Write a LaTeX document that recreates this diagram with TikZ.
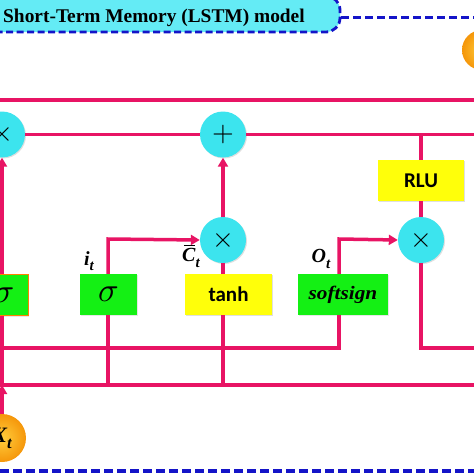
\documentclass[tikz,border=0pt]{standalone}
\usepackage{amsmath}
\usepackage{fontspec}
\setmainfont{Liberation Serif}
\newfontfamily\carl{Carlito}
\newcommand\bivar[3]{{\bfseries\itshape\fontsize{#1}{#1}\selectfont #2\raisebox{-0.28em}{\fontsize{0.75\dimexpr #1pt\relax}{1}\selectfont #3}}}
\usetikzlibrary{arrows.meta,shadows}
\definecolor{lpink}{RGB}{232,20,100}
\definecolor{lcyan}{RGB}{60,228,238}
\definecolor{lgreen}{RGB}{20,240,20}
\definecolor{lyellow}{RGB}{255,255,10}
\definecolor{lblue}{RGB}{20,20,200}
\definecolor{orin}{RGB}{255,205,60}
\definecolor{orout}{RGB}{245,150,10}
\definecolor{bannerc}{RGB}{100,235,245}
\tikzset{
  wire/.style={draw=lpink,line width=3.5pt},
  arr/.style={wire,-{Triangle[length=9pt,width=10pt]}},
  opc/.style={circle,fill=lcyan,minimum size=46pt,inner sep=0pt,drop shadow={opacity=0.25,shadow xshift=1pt,shadow yshift=-1pt}},
  gbox/.style={rectangle,fill=lgreen,minimum height=41pt,inner sep=0pt,drop shadow={opacity=0.2,shadow xshift=1pt,shadow yshift=-1pt}},
  ybox/.style={rectangle,fill=lyellow,minimum height=41pt,inner sep=0pt,drop shadow={opacity=0.25,shadow xshift=1pt,shadow yshift=-1pt},font=\carl\bfseries\fontsize{21}{21}\selectfont},
  inc/.style={circle,inner color=orin,outer color=orout,inner sep=0pt},
  lbl/.style={inner sep=0pt},
  bluedash/.style={draw=lblue,line width=3.5pt,dash pattern=on 9pt off 4pt}
}
\begin{document}
\begin{tikzpicture}[x=1pt,y=-1pt]
\useasboundingbox (0,0) rectangle (474,474);
\clip (0,0) rectangle (474,474);
% banner
\node[draw=lblue,line width=2.8pt,dash pattern=on 7pt off 3.5pt,fill=bannerc,rounded corners=14pt,minimum width=372pt,minimum height=36pt,inner sep=0pt] (banner) at (154,14) {};
\node[font=\bfseries\fontsize{19.4}{19.4}\selectfont,inner sep=0pt,anchor=west] (title) at (3,18) {Short-Term Memory (LSTM) model};
\coordinate (bannerR) at (474,17);
\draw[draw=lblue,line width=3pt,dash pattern=on 8pt off 4pt] (banner.east |- bannerR) -- (bannerR);
% orange circles
\node[inc,minimum size=40pt] (ht) at (482,50) {};
\node[inc,minimum size=48pt] (xt) at (2,438) {\bivar{22}{X}{t}};
% operators
\node[opc] (mulL) at (2,134.5) {\scalebox{2.8}{$\times$}};
\node[opc] (plus) at (223,134.5) {\scalebox{2.8}{$+$}};
\node[opc] (mulM) at (223,240) {\scalebox{2.8}{$\times$}};
\node[opc] (mulR) at (421,240) {\scalebox{2.8}{$\times$}};
% boxes
\node[gbox,draw=orange,line width=1pt,minimum width=48pt] (sigF) at (4,295) {\scalebox{3.4}{$\sigma$}};
\node[gbox,minimum width=57pt] (sigI) at (108.5,294.5) {\scalebox{3.4}{$\sigma$}};
\node[ybox,minimum width=87pt] (tanh) at (228.5,294.5) {tanh};
\node[gbox,minimum width=90pt,font=\bfseries\itshape\fontsize{19}{19}\selectfont] (soft) at (343,294.5) {\scalebox{1.12}[1]{softsign}};
\node[ybox,minimum width=86pt] (rlu) at (421,180.5) {RLU};
% labels
\node[lbl] (lit) at (89,261) {\bivar{20}{i}{t}};
\node[lbl] (lct) at (191,256) {\bivar{20}{\rlap{\hspace{0.08em}\raisebox{0.78em}{\rule{0.55em}{1.4pt}}}C}{t}};
\node[lbl] (lot) at (321,259) {\bivar{20}{O}{t}};
% coordinates
\coordinate (topL) at (0,100);
\coordinate (topR) at (474,100);
\coordinate (cR) at (474,134.5);
\coordinate (rlTop) at (421,134.5);
\coordinate (iC) at (108,239);
\coordinate (oC) at (339,239);
\coordinate (rB) at (421,348);
\coordinate (rBR) at (474,348);
\coordinate (b1L) at (0,348);
\coordinate (b1R) at (339,348);
\coordinate (b2L) at (0,385);
\coordinate (b2R) at (474,385);
\coordinate (fB) at (2,385);
\coordinate (iB) at (108,385);
\coordinate (tB) at (223,385);
% wires
\draw[wire] (topL) -- (topR);
\draw[wire] (mulL) -- (plus) -- (cR);
\draw[wire] (rlTop) -- (rlu.north);
\draw[wire] (rlu.south) -- (mulR.north);
\draw[arr] (mulM.north) -- (plus.south);
\draw[wire] (tanh.north -| mulM) -- (mulM.south);
\draw[arr] (sigI.north -| iC) -- (iC) -- (mulM.west);
\draw[arr] (soft.north -| oC) -- (oC) -- (mulR.west);
\draw[arr] (sigF.north -| fB) -- (mulL.south);
\draw[wire] (mulR.south) -- (rB) -- (rBR);
\draw[wire] (b1L) -- (b1R) -- (soft.south -| b1R);
\draw[wire] (b2L) -- (b2R);
\draw[wire] (sigF.south -| fB) -- (fB);
\draw[wire] (sigI.south -| iB) -- (iB);
\draw[wire] (tanh.south -| tB) -- (tB);
\draw[arr] (xt.north) -- (fB);
% bottom dashed line
\coordinate (dl) at (0,471);
\coordinate (dr) at (474,471);
\draw[bluedash] (dl) -- (dr);
\end{tikzpicture}
\end{document}
